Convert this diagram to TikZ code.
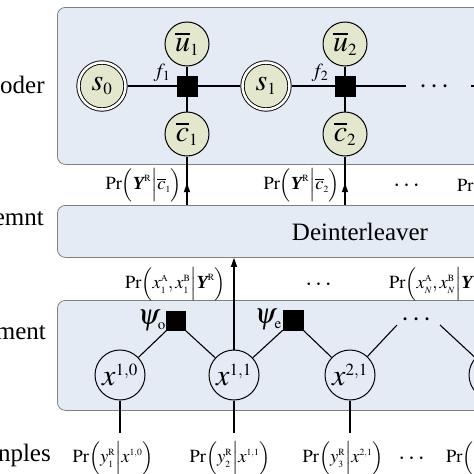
\documentclass[tikz,border=0pt]{standalone}
\usepackage{amsmath}
\usepackage{mathptmx}
\usepackage{fontspec}
\setmainfont{Liberation Serif}
\usetikzlibrary{arrows.meta}
\DeclareMathSizes{30}{30}{17}{12}
\DeclareMathSizes{18.5}{18.5}{9.5}{7.5}
\DeclareMathSizes{29}{29}{15}{11}
\DeclareMathSizes{20}{20}{14}{10}
\definecolor{panel}{HTML}{E4EBF5}
\definecolor{nodefill}{HTML}{E3E7CD}
\definecolor{panelline}{HTML}{808080}
\tikzset{
  panelbox/.style={draw=panelline, fill=panel, rounded corners=8pt, line width=0.8pt, anchor=north west, inner sep=0pt},
  varnode/.style={circle, draw, line width=1pt, fill=nodefill, minimum size=44pt, inner sep=0pt, font=\fontsize{30}{36}\selectfont},
  statenode/.style={varnode, minimum size=47pt, line width=0.9pt, double=white, double distance=2.5pt, outer sep=2.2pt},
  factor/.style={rectangle, fill=black, draw=black, minimum size=20pt, inner sep=0pt},
  obsnode/.style={circle, draw, line width=1pt, minimum size=50pt, inner sep=0pt, font=\fontsize{30}{36}\selectfont},
  edge/.style={line width=1.1pt},
  prlabel/.style={font=\fontsize{18.5}{22}\selectfont, inner sep=0pt},
  side/.style={font=\fontsize{25}{30}\selectfont, inner sep=0pt},
  flabel/.style={font=\fontsize{20}{24}\selectfont, inner sep=0pt},
  psilabel/.style={font=\fontsize{29}{34}\selectfont, inner sep=0pt},
  dotsbig/.style={font=\fontsize{29}{30}\selectfont, inner sep=0pt, anchor=base},
  dotsmid/.style={font=\fontsize{25}{30}\selectfont, inner sep=0pt, anchor=base},
  uparrow/.style={edge, -{Triangle[length=9pt,width=6pt]}}
}
\begin{document}
\begin{tikzpicture}[x=1pt,y=-1pt]
\useasboundingbox (0,0) rectangle (474,474);
% panels
\node[panelbox, minimum width=443pt, minimum height=157pt] (dec) at (57,7) {};
\node[panelbox, minimum width=443pt, minimum height=52pt] (deint) at (57,205) {};
\node[panelbox, minimum width=443pt, minimum height=110pt] (bot) at (57,300) {};
% side labels
\node[side, anchor=west] (l1) at (0,85) {oder};
\node[side, anchor=east] (l2) at (44,219) {emnt};
\node[side, anchor=east] (l3) at (46,333) {ment};
\node[side, anchor=east] (l4) at (51,455) {nples};
\node[side] (dtext) at (360,232) {Deinterleaver};
% decoder
\node[statenode] (s0) at (102,86) {$s_0$};
\node[factor] (f1) at (187,86) {};
\node[varnode] (u1) at (187,44) {$\overline{u}_1$};
\node[varnode] (c1) at (187,134) {$\overline{c}_1$};
\node[statenode] (s1) at (266,86) {$s_1$};
\node[factor] (f2) at (345,86) {};
\node[varnode] (u2) at (345,44) {$\overline{u}_2$};
\node[varnode] (c2) at (345,134) {$\overline{c}_2$};
\coordinate (hend) at (406,86);
\coordinate (hnext) at (471,86);
\coordinate (hout) at (480,86);
\node[dotsbig] (tdots) at (436,93) {$\cdots$};
\node[flabel] (f1l) at (162,73) {$f_1$};
\node[flabel] (f2l) at (320,73) {$f_2$};
\draw[edge] (s0) -- (f1) -- (s1) -- (f2) -- (hend);
\draw[edge] (hnext) -- (hout);
\draw[edge] (u1) -- (f1) -- (c1);
\draw[edge] (u2) -- (f2) -- (c2);
% arrows deinterleaver -> c nodes
\draw[edge] (c1 |- deint.north) -- (c1);
\draw[uparrow] (c1 |- deint.north) -- ++(0,-22);
\draw[edge] (c2 |- deint.north) -- (c2);
\draw[uparrow] (c2 |- deint.north) -- ++(0,-22);
\node[prlabel, anchor=east] (p1) at (182,185) {$\Pr\Bigl(\mbox{\bfseries\itshape Y}^{\mathrm R}\Big|\overline{c}_1\Bigr)$};
\node[prlabel, anchor=east] (p2) at (340,185) {$\Pr\Bigl(\mbox{\bfseries\itshape Y}^{\mathrm R}\Big|\overline{c}_2\Bigr)$};
\node[dotsmid] (mdots1) at (408,191) {$\cdots$};
\node[prlabel, anchor=west] (p3) at (457,185) {$\Pr$};
% middle labels
\node[prlabel, anchor=east] (p4) at (226,284) {$\Pr\Bigl(x_1^{\mathrm A},x_1^{\mathrm B}\Big|\mbox{\bfseries\itshape Y}^{\mathrm R}\Bigr)$};
\node[dotsmid] (mdots2) at (320,290) {$\cdots$};
\node[prlabel, anchor=west] (p5) at (389,284) {$\Pr\Bigl(x_N^{\mathrm A},x_N^{\mathrm B}\Big|\mbox{\bfseries\itshape Y}$};
% bottom panel
\node[obsnode] (x10) at (120,375) {$x^{1,0}$};
\node[obsnode] (x11) at (234,375) {$x^{1,1}$};
\node[obsnode] (x21) at (350,375) {$x^{2,1}$};
\node[obsnode] (x31) at (494,375) {};
\node[factor, minimum size=19pt] (po) at (176,321) {};
\node[factor] (pe) at (293,320) {};
\node[psilabel, anchor=east] (pol) at (166,321) {$\psi_{\mathrm o}$};
\node[psilabel, anchor=east] (pel) at (282,320) {$\psi_{\mathrm e}$};
\coordinate (dl) at (397,325);
\coordinate (dr) at (440,325);
\node[dotsbig] (bdots) at (418,326) {$\cdots$};
\draw[edge] (po.south west) -- (x10);
\draw[edge] (po.south east) -- (x11);
\draw[edge] (pe.south west) -- (x11);
\draw[edge] (pe.south east) -- (x21);
\draw[edge] (x21) -- (dl);
\draw[edge] (dr) -- (x31);
\draw[uparrow] (x11.north) -- (x11.north |- deint.south);
% observation links
\coordinate (lb) at (0,433);
\draw[edge] (x10.south) -- (x10.south |- lb);
\draw[edge] (x11.south) -- (x11.south |- lb);
\draw[edge] (x21.south) -- (x21.south |- lb);
\node[prlabel] (q1) at (113,458) {$\Pr\Bigl(y_1^{\mathrm R}\Big|x^{1,0}\Bigr)$};
\node[prlabel] (q2) at (230,458) {$\Pr\Bigl(y_2^{\mathrm R}\Big|x^{1,1}\Bigr)$};
\node[prlabel] (q3) at (343,458) {$\Pr\Bigl(y_3^{\mathrm R}\Big|x^{2,1}\Bigr)$};
\node[dotsmid] (bdots2) at (413,464) {$\cdots$};
\node[prlabel, anchor=west] (q4) at (446,458) {$\Pr\Bigl($};
\end{tikzpicture}
\end{document}
